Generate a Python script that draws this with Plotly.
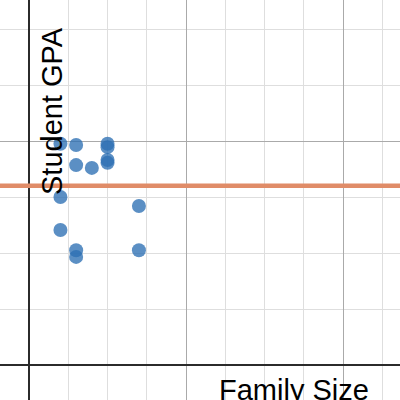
import plotly.graph_objects as go

# Data
family_size = [2, 2, 2, 3, 3, 3, 3, 4, 5, 5, 5, 5, 7, 7]
student_gpa = [3.95, 3.0, 2.41, 3.93, 3.57, 2.05, 1.93, 3.52, 3.95, 3.89, 3.66, 3.61, 2.84, 2.05]
mean_gpa = 3.2

x_label = "Family Size"
y_label = "Student GPA"

x_range = [-1.85, 23.63]
y_range = [-0.625, 6.518]

fig = go.Figure()

fig.add_trace(go.Scatter(
    x=x_range, y=[mean_gpa, mean_gpa], mode="lines",
    line=dict(color="rgb(224,140,104)", width=4.5),
    hoverinfo="skip", showlegend=False,
))

fig.add_trace(go.Scatter(
    x=family_size, y=student_gpa, mode="markers",
    marker=dict(color="#2d70b3", size=14, opacity=0.78, line=dict(width=0)),
    showlegend=False,
))

font = dict(family="Liberation Sans, Arial, sans-serif", size=29, color="#000000")

fig.add_annotation(
    text=y_label, textangle=-90, xref="paper", yref="paper",
    x=51.5 / 400, y=1 - 111.5 / 400, xanchor="center", yanchor="middle",
    showarrow=False, font=font,
)
fig.add_annotation(
    text=x_label, xref="paper", yref="paper",
    x=293.5 / 400, y=1 - 389.5 / 400, xanchor="center", yanchor="middle",
    showarrow=False, font=font,
)

axis_common = dict(
    showticklabels=False, ticks="",
    gridcolor="#aaaaaa", gridwidth=1.3,
    zeroline=True, zerolinecolor="#2b2b2b", zerolinewidth=2,
    showline=False, fixedrange=True,
)

fig.update_xaxes(range=x_range, dtick=10, tick0=0,
                 minor=dict(dtick=2.5, tick0=0, showgrid=True, gridcolor="#dedede", gridwidth=1.3),
                 **axis_common)
fig.update_yaxes(range=y_range, dtick=4, tick0=0,
                 minor=dict(dtick=1, tick0=0, showgrid=True, gridcolor="#dedede", gridwidth=1.3),
                 **axis_common)

fig.update_layout(
    width=400, height=400,
    margin=dict(l=0, r=0, t=0, b=0),
    plot_bgcolor="white", paper_bgcolor="white",
    showlegend=False,
)

fig.write_html(
    "out.html",
    config={"displayModeBar": False},
    post_script="document.body.style.margin='0';document.body.style.overflow='hidden';",
)
